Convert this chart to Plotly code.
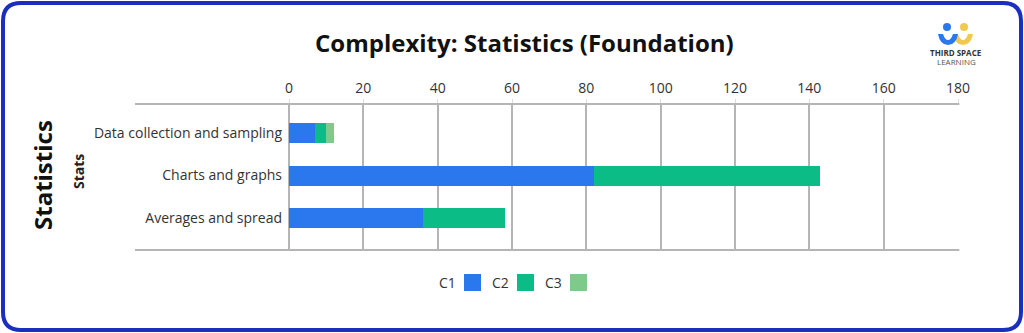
import plotly.graph_objects as go

categories = ["Data collection and sampling", "Charts and graphs", "Averages and spread"]
c1 = [7, 82, 36]
c2 = [3, 61, 22]
c3 = [2, 0, 0]
series_names = ["C1", "C2", "C3"]
colors = ["#2b78ee", "#0bbc87", "#7fc98a"]
x_ticks = [0, 20, 40, 60, 80, 100, 120, 140, 160, 180]

FONT = "Open Sans, Lato, sans-serif"

fig = go.Figure()
for name, vals, col in zip(series_names, [c1, c2, c3], colors):
    fig.add_trace(go.Bar(
        y=categories, x=vals, name=name, orientation="h",
        marker=dict(color=col, line=dict(width=0)), width=0.47,
        showlegend=False,
    ))

fig.update_layout(
    width=1024, height=333,
    margin=dict(l=289, r=66, t=104, b=83),
    barmode="stack",
    paper_bgcolor="white", plot_bgcolor="white",
    font=dict(family=FONT, color="#333333", size=14),
    xaxis=dict(
        side="top", range=[0, 180], tickvals=x_ticks,
        showgrid=True, gridcolor="#b5b5b5", gridwidth=2,
        zeroline=True, zerolinecolor="#b5b5b5", zerolinewidth=2,
        ticks="outside", ticklen=4, tickcolor="#dddddd",
        tickfont=dict(size=14, color="#333333"), fixedrange=True,
    ),
    yaxis=dict(
        categoryorder="array", categoryarray=categories,
        range=[2.75, -0.68], showgrid=False, zeroline=False,
        ticks="", ticklabelstandoff=6,
        tickfont=dict(size=14, color="#333333"), fixedrange=True,
    ),
)

# horizontal frame lines spanning label area
x0 = (135 - 289) / 669
for yv in [1, 0]:
    fig.add_shape(type="line", xref="paper", yref="paper", x0=x0, x1=1.002, y0=yv, y1=yv,
                  line=dict(color="#b5b5b5", width=2), layer="below")

# title
fig.add_annotation(text="<b>Complexity: Statistics (Foundation)</b>", xref="paper", yref="paper",
                   x=(524 - 289) / 669, y=1 + (104 - 43) / 146, showarrow=False,
                   font=dict(size=24, color="#111111", family=FONT), xanchor="center", yanchor="middle")

# rotated group labels
fig.add_annotation(text="<b>Statistics</b>", xref="paper", yref="paper",
                   x=(42 - 289) / 669, y=(250 - 175) / 146, showarrow=False, textangle=-90,
                   font=dict(size=24, color="#111111", family=FONT), xanchor="center", yanchor="middle")
fig.add_annotation(text="<b>Stats</b>", xref="paper", yref="paper",
                   x=(78 - 289) / 669, y=(250 - 172) / 146, showarrow=False, textangle=-90,
                   font=dict(size=14, color="#222222", family=FONT), xanchor="center", yanchor="middle")

# custom legend: text then square
leg_x = [450, 503, 556]
for name, col, lx in zip(series_names, colors, leg_x):
    fig.add_annotation(text=name, xref="paper", yref="paper",
                       x=(lx + 8 - 289) / 669, y=(250 - 282) / 146, showarrow=False,
                       font=dict(size=14, color="#333333", family=FONT), xanchor="right", yanchor="middle")
    fig.add_shape(type="rect", xref="paper", yref="paper",
                  x0=(lx + 14 - 289) / 669, x1=(lx + 31 - 289) / 669,
                  y0=(250 - 291) / 146, y1=(250 - 274) / 146,
                  fillcolor=col, line=dict(width=0))

# rounded border
def px(x):
    return (x - 289) / 669
def py(y):
    return (250 - y) / 146
r = 18
L, T, R, B = 3, 3, 1021, 330
path = (f"M {px(L+r)},{py(T)} L {px(R-r)},{py(T)} Q {px(R)},{py(T)} {px(R)},{py(T+r)} "
        f"L {px(R)},{py(B-r)} Q {px(R)},{py(B)} {px(R-r)},{py(B)} "
        f"L {px(L+r)},{py(B)} Q {px(L)},{py(B)} {px(L)},{py(B-r)} "
        f"L {px(L)},{py(T+r)} Q {px(L)},{py(T)} {px(L+r)},{py(T)} Z")
fig.add_shape(type="path", xref="paper", yref="paper", path=path,
              line=dict(color="#1a2fc0", width=4))

# logo
fig.add_shape(type="circle", xref="paper", yref="paper",
              x0=px(943), x1=px(951), y0=py(31), y1=py(23), fillcolor="#2b78ee", line=dict(width=0))
fig.add_shape(type="circle", xref="paper", yref="paper",
              x0=px(960), x1=px(968), y0=py(31), y1=py(23), fillcolor="#f2c94c", line=dict(width=0))
cup_b = (f"M {px(938)},{py(34)} Q {px(940)},{py(45)} {px(948)},{py(45)} "
         f"Q {px(956)},{py(45)} {px(958)},{py(34)} L {px(953)},{py(34)} "
         f"Q {px(951)},{py(40)} {px(948)},{py(40)} Q {px(945)},{py(40)} {px(943)},{py(34)} Z")
cup_y = (f"M {px(953)},{py(34)} Q {px(955)},{py(45)} {px(963)},{py(45)} "
         f"Q {px(971)},{py(45)} {px(973)},{py(34)} L {px(968)},{py(34)} "
         f"Q {px(966)},{py(40)} {px(963)},{py(40)} Q {px(960)},{py(40)} {px(958)},{py(34)} Z")
fig.add_shape(type="path", xref="paper", yref="paper", path=cup_y, fillcolor="#f2c94c", line=dict(width=0))
fig.add_shape(type="path", xref="paper", yref="paper", path=cup_b, fillcolor="#2b78ee", line=dict(width=0))
fig.add_annotation(text="<b>THIRD SPACE</b>", xref="paper", yref="paper", x=px(956), y=py(53),
                   showarrow=False, font=dict(size=8, color="#333333", family=FONT),
                   xanchor="center", yanchor="middle")
fig.add_annotation(text="LEARNING", xref="paper", yref="paper", x=px(956), y=py(62),
                   showarrow=False, font=dict(size=8, color="#555555", family=FONT),
                   xanchor="center", yanchor="middle")

fig.write_html("out.html")
